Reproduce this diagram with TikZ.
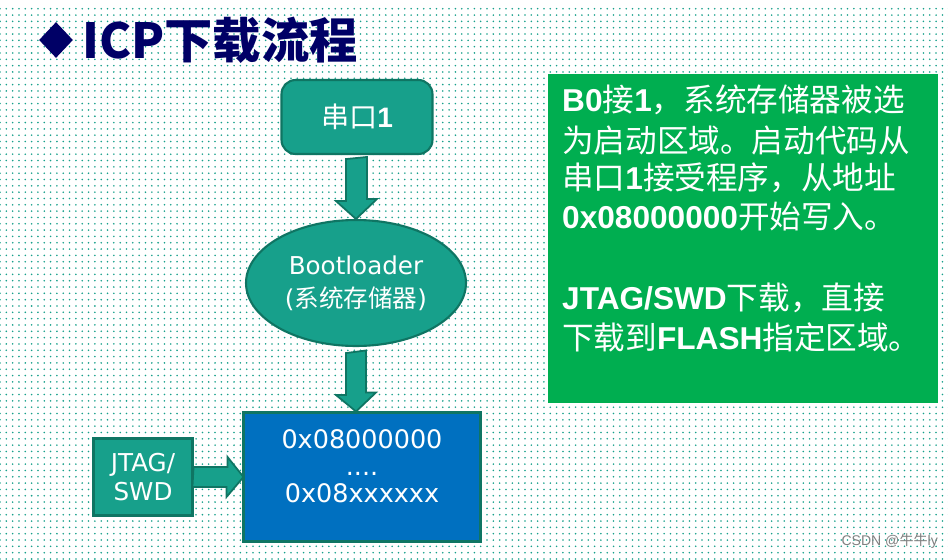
\documentclass[tikz,border=0pt]{standalone}
\usepackage{fontspec}
\setmainfont{Liberation Sans}
\newfontfamily\cjk{Noto Sans CJK SC}
\newfontfamily\dv{DejaVu Sans}
\usetikzlibrary{positioning,shapes.geometric,patterns,calc}
\definecolor{tealfill}{HTML}{17A08B}
\definecolor{tealline}{HTML}{0F7563}
\definecolor{memblue}{HTML}{0070C0}
\definecolor{notegreen}{HTML}{00AE50}
\definecolor{navy}{HTML}{000066}
\pgfdeclarepatternformonly{sparsedots}{\pgfpoint{-1pt}{-1pt}}{\pgfpoint{1pt}{1pt}}{\pgfpoint{3.6pt}{3.6pt}}{%
  \pgfpathcircle{\pgfpointorigin}{0.5pt}\pgfusepath{fill}}
\tikzset{
  tealbox/.style={draw=tealline,line width=1.2pt,fill=tealfill,text=white},
  blockarrow/.style={draw=tealline,line width=1pt,fill=tealfill,line join=miter},
  notetext/.style={anchor=west,text=white,font=\fontsize{18pt}{20pt}\selectfont}
}
\newcommand{\zh}[1]{{\cjk\mdseries #1}}
\begin{document}
\begin{tikzpicture}[x=0.02cm,y=-0.02cm]
\useasboundingbox (0,0) rectangle (948,559);
\fill[white] (0,0) rectangle (948,559);
\fill[pattern=sparsedots,pattern color=tealfill] (0,6) rectangle (948,559);

% title
\node[diamond,fill=navy,minimum width=0.68cm,minimum height=0.72cm,inner sep=0pt] (bullet) at (56,40) {};
\node[anchor=west,text=navy,font=\cjk\bfseries\fontsize{27.5pt}{30pt}\selectfont] (title) at (76,40) {ICP下载流程};

% flow
\node[tealbox,rounded corners=8pt,minimum width=3.02cm,minimum height=1.48cm,
  font=\fontsize{16pt}{18pt}\selectfont] (port) at (357,117) {\zh{串口}\textbf{1}};
\node[tealbox,ellipse,minimum width=4.4cm,minimum height=2.52cm,align=center,
  font=\dv\fontsize{14pt}{19pt}\selectfont] (boot) at (356,283) {Bootloader\\(\zh{系统存储器})};
\node[tealbox,fill=memblue,rectangle,minimum width=4.74cm,minimum height=2.58cm] (flash) at (362,477) {};
\node[text=white,align=center,font=\dv\fontsize{14.5pt}{15.5pt}\selectfont] (flashtext) at (362,466)
  {0x08000000\\....\\0x08xxxxxx};
\node[tealbox,rectangle,minimum width=1.98cm,minimum height=1.54cm,align=center,
  font=\dv\fontsize{14pt}{17pt}\selectfont] (jtag) at (143,477) {JTAG/\\SWD};

% block arrows
\draw[blockarrow] ($(port.south)+(-11,4)$) -- ++(0,42) -- ++(-10,0) -- (boot.north)
  -- ++(21,-20) -- ++(-10,0) -- ++(0,-42) -- cycle;
\draw[blockarrow] ($(boot.south)+(-10,6)$) -- ++(0,42) -- ++(-10,0) -- (boot.south |- flash.north)
  -- ++(20,-19) -- ++(-10,0) -- ++(0,-42) -- cycle;
\draw[blockarrow] ($(jtag.east)+(0,-10)$) -- ++(34,0) -- ++(0,-10) -- ($(flash.west)+(1,0)$)
  -- ++(-17,20) -- ++(0,-10) -- ++(-34,0) -- cycle;

% note
\fill[notegreen] (548,74) rectangle (938,403);
\node[notetext] (n1) at (556,100) {\textbf{B0}\zh{接}\textbf{1}\zh{，系统存储器被选}};
\node[notetext] (n2) at (556,140) {\zh{为启动区域。启动代码从}};
\node[notetext] (n3) at (556,178) {\zh{串口}\textbf{1}\zh{接受程序，从地址}};
\node[notetext] (n4) at (556,217) {\textbf{0x08000000}\zh{开始写入。}};
\node[notetext] (n5) at (556,298) {\textbf{JTAG/SWD}\zh{下载，直接}};
\node[notetext] (n6) at (556,337) {\zh{下载到}\textbf{FLASH}\zh{指定区域。}};

\node[text=gray,font=\fontsize{8pt}{9pt}\selectfont,anchor=east] (mark) at (944,541) {CSDN @\zh{牛牛}ly};
\end{tikzpicture}
\end{document}
